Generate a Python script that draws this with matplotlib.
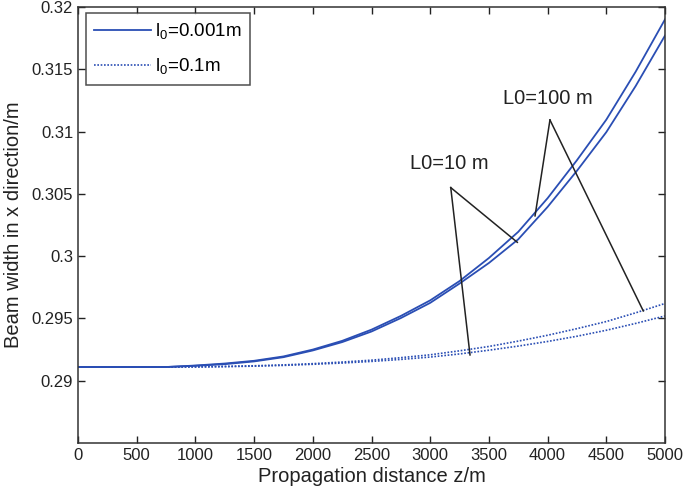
import numpy as np
import matplotlib.pyplot as plt

plt.rcParams["font.family"] = ["Liberation Sans", "DejaVu Sans"]
plt.rcParams["mathtext.fontset"] = "custom"
plt.rcParams["mathtext.rm"] = "Liberation Sans"

# propagation distance z (m)
z = [0, 250, 500, 750, 1000, 1250, 1500, 1750, 2000, 2250, 2500,
     2750, 3000, 3250, 3500, 3750, 4000, 4250, 4500, 4750, 5000]

# beam width, inner scale l0 = 0.001 m (two outer scales)
w_small_a = [0.2911, 0.2911, 0.2911, 0.2911, 0.29122, 0.29138, 0.2916, 0.29195, 0.2925, 0.2932, 0.2941,
             0.2952, 0.29645, 0.298, 0.29985, 0.30195, 0.30465, 0.3077, 0.31095, 0.3148, 0.3190]
w_small_b = [0.2911, 0.2911, 0.2911, 0.2911, 0.2912, 0.29133, 0.29155, 0.29189, 0.29243, 0.2931, 0.29395,
             0.29503, 0.29625, 0.2978, 0.29945, 0.30135, 0.30395, 0.30685, 0.30995, 0.31365, 0.3177]

# beam width, inner scale l0 = 0.1 m
w_big_a = [0.2911, 0.2911, 0.2911, 0.2911, 0.29112, 0.29115, 0.2912, 0.29127, 0.29137, 0.2915, 0.29165,
           0.29185, 0.29208, 0.2924, 0.29275, 0.29318, 0.29365, 0.29418, 0.29475, 0.29545, 0.2962]
w_big_b = [0.2911, 0.2911, 0.2911, 0.2911, 0.2911, 0.29113, 0.29117, 0.29123, 0.29132, 0.29142, 0.29155,
           0.29171, 0.2919, 0.29215, 0.29245, 0.29278, 0.29315, 0.29357, 0.29405, 0.2946, 0.2952]

# callout lines: label position, apex, and the two curve points
L10_text = (3160, 0.3074)
L10_apex = (3175, 0.3055)
L10_ends = [(3742, 0.30111), (3339, 0.29207)]
L100_text = (4003, 0.31262)
L100_apex = (4020, 0.31093)
L100_ends = [(3893, 0.30323), (4815, 0.2956)]

blue = "#2a4eb4"

fig = plt.figure(figsize=(6.85, 4.95), dpi=100)
ax = fig.add_axes([0.1139, 0.105, 0.8569, 0.881])

ax.plot(z, w_small_a, color=blue, lw=1.3, label=r"$\mathregular{l_0}$=0.001m")
ax.plot(z, w_small_b, color=blue, lw=1.3)
ax.plot(z, w_big_a, color=blue, lw=1.2, ls=(0, (1, 1)), label=r"$\mathregular{l_0}$=0.1m")
ax.plot(z, w_big_b, color=blue, lw=1.2, ls=(0, (1, 1)))

for apex, ends in [(L10_apex, L10_ends), (L100_apex, L100_ends)]:
    for end in ends:
        ax.plot([apex[0], end[0]], [apex[1], end[1]], color="#222222", lw=1.1)

ax.text(*L10_text, "L0=10 m", fontsize=14.5, ha="center", va="center", color="#222222")
ax.text(*L100_text, "L0=100 m", fontsize=14.5, ha="center", va="center", color="#222222")

ax.set_xlim(0, 5000)
ax.set_ylim(0.285, 0.32)
ax.set_xticks(np.arange(0, 5001, 500))
ax.set_yticks([0.29, 0.295, 0.3, 0.305, 0.31, 0.315, 0.32])
ax.set_yticklabels(["0.29", "0.295", "0.3", "0.305", "0.31", "0.315", "0.32"])
ax.tick_params(direction="in", top=True, right=True, length=5, width=1,
               labelsize=12, colors="#222222")
for s in ax.spines.values():
    s.set_color("#333333")
    s.set_linewidth(1.1)

ax.set_xlabel("Propagation distance z/m", fontsize=14.5, color="#222222", labelpad=3)
ax.set_ylabel("Beam width in x direction/m", fontsize=14.5, color="#222222", labelpad=6)

leg = ax.legend(loc="upper left", fontsize=13.5, frameon=True, fancybox=False,
                edgecolor="#222222", handlelength=3.0, handletextpad=0.25,
                borderpad=0.45, labelspacing=0.8, borderaxespad=0,
                bbox_to_anchor=(0.0136, 0.986))
leg.get_frame().set_linewidth(1.1)

fig.savefig("out.png", dpi=100)
